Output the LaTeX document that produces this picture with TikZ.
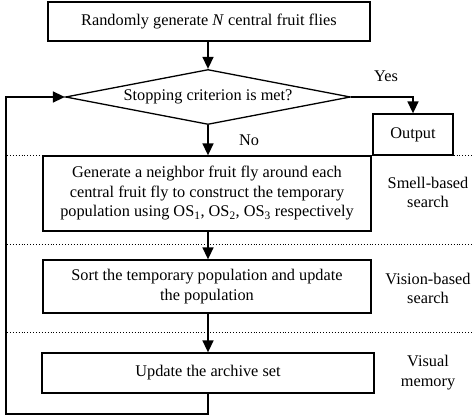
\documentclass[tikz,border=0pt]{standalone}
\usepackage{fontspec}
\setmainfont{Liberation Serif}
\usetikzlibrary{shapes.geometric,arrows.meta}
\begin{document}
\begin{tikzpicture}[x=1pt,y=-1pt,
  font=\fontsize{16.3}{19.5}\selectfont,
  box/.style={draw,line width=1.3pt,inner sep=0pt,align=center},
  flow/.style={line width=1.6pt,-{Triangle[length=12pt,width=11pt]}},
  sep/.style={dotted,line width=0.9pt},
  side/.style={align=center}]
\useasboundingbox (0,0) rectangle (474,417);
% separators
\draw[sep] (7,155) -- (474,155);
\draw[sep] (7,244) -- (474,244);
\draw[sep] (7,332) -- (474,332);
% nodes
\node[box,minimum width=322pt,minimum height=39pt] (top) at (209,21.5) {Randomly generate \textit{N} central fruit flies};
\node[draw,line width=1.3pt,shape=diamond,shape aspect=5.2,inner sep=0pt,minimum width=285pt,minimum height=55pt,fill=white] (dia) at (208,97) {Stopping criterion is met?};
\node[box,minimum width=80pt,minimum height=41pt,fill=white] (out) at (413,134.5) {Output};
\node[box,minimum width=328pt,minimum height=75pt,fill=white] (b2) at (207,193.5) {Generate a neighbor fruit fly around each\\central fruit fly to construct the temporary\\population using OS\textsubscript{1}, OS\textsubscript{2}, OS\textsubscript{3} respectively};
\node[box,minimum width=328pt,minimum height=53pt,fill=white] (b3) at (207,286.5) {Sort the temporary population and update\\the population};
\node[box,minimum width=332pt,minimum height=40pt,fill=white] (b4) at (208,373) {Update the archive set};
% side labels
\node[side] (l1) at (428,192.5) {Smell-based\\search};
\node[side] (l2) at (428,288.5) {Vision-based\\search};
\node[side] (l3) at (428,372.5) {Visual\\memory};
\node (yes) at (386,76) {Yes};
\node (no) at (249,140) {No};
% coordinates
\coordinate (c1) at (413,97);
\coordinate (c2) at (208,414);
\coordinate (c3) at (6,414);
\coordinate (c4) at (6,97);
% connectors
\draw[flow] (top.south -| dia.north) -- (dia.north);
\draw[flow] (dia.south) -- (dia.south |- b2.north);
\draw[flow] (dia.south |- b2.south) -- (dia.south |- b3.north);
\draw[flow] (dia.south |- b3.south) -- (dia.south |- b4.north);
\draw[flow] (dia.east) -- (c1) -- (out.north);
\draw[flow] (b4.south -| c2) -- (c2) -- (c3) -- (c4) -- (dia.west);
\end{tikzpicture}
\end{document}
